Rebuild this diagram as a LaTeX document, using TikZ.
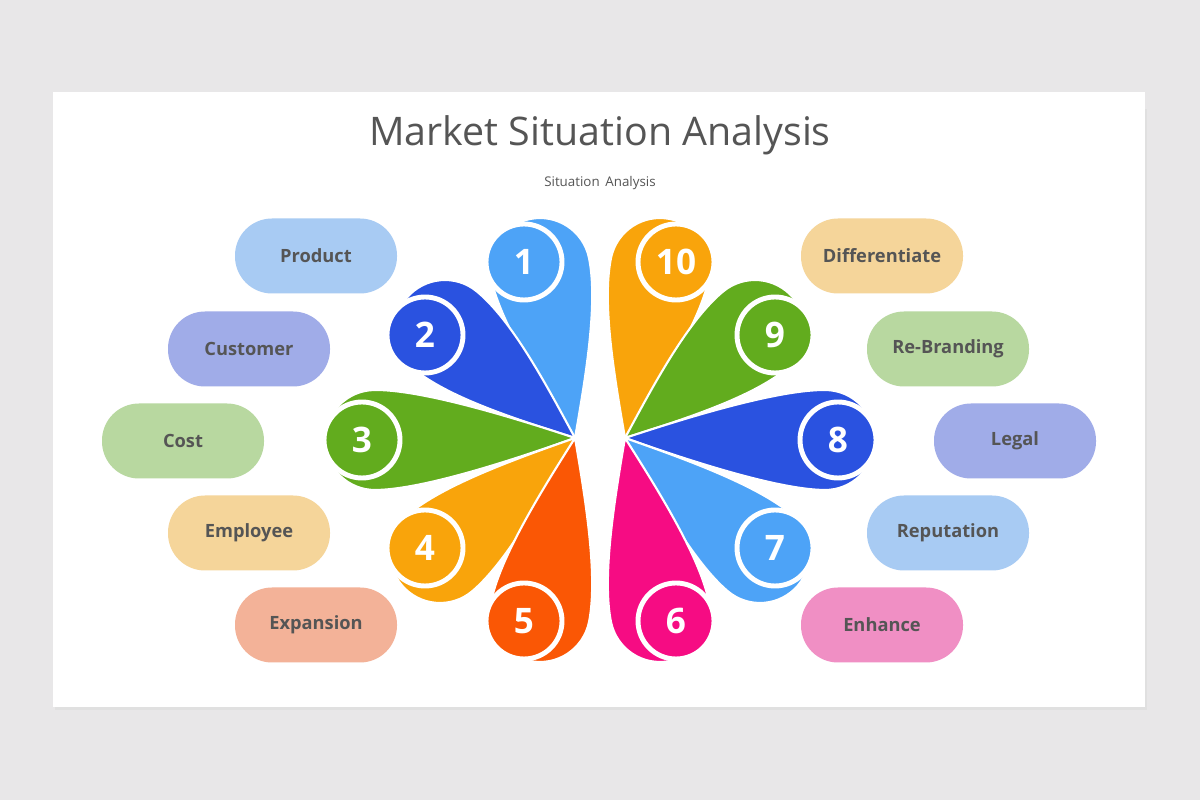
\documentclass[tikz,border=0pt]{standalone}
\usepackage{fontspec}
\setmainfont{Open Sans}
\definecolor{bg}{HTML}{E8E7E8}
\definecolor{txt}{HTML}{555555}
\definecolor{cA}{HTML}{4DA3F7}
\definecolor{cB}{HTML}{2A52E0}
\definecolor{cC}{HTML}{62AC1E}
\definecolor{cD}{HTML}{F9A40B}
\definecolor{cE}{HTML}{FA5705}
\definecolor{cF}{HTML}{F60C83}
\definecolor{pA}{HTML}{A8CBF3}
\definecolor{pB}{HTML}{A0ACE8}
\definecolor{pC}{HTML}{B8D8A0}
\definecolor{pD}{HTML}{F5D59A}
\definecolor{pE}{HTML}{F3B298}
\definecolor{pF}{HTML}{F08FC4}
\newcommand{\mypetal}[3]{%
  \pgfmathsetmacro{\pang}{atan2(#3,#2)}%
  \pgfmathsetmacro{\plen}{veclen(#2,#3)}%
  \begin{scope}[shift={(575,362)},rotate=\pang]
    \fill[#1,draw=white,line width=1.5pt] (0,0) .. controls (0.35*\plen,-24) and (\plen-45,-50) .. (\plen,-50)
      arc[start angle=-90,end angle=90,radius=50]
      .. controls (\plen-45,50) and (0.35*\plen,24) .. cycle;
  \end{scope}}
\tikzset{
  pill/.style={rounded corners=37*0.025cm,minimum width=162*0.025cm,minimum height=75*0.025cm,
    font=\fontsize{13}{15}\selectfont\bfseries,text=txt,inner sep=0pt},
  num/.style={circle,draw=white,line width=3.5pt,minimum size=76*0.025cm,inner sep=0pt,
    text=white,font=\fontsize{25}{28}\selectfont\bfseries}
}
\begin{document}
\begin{tikzpicture}[x=0.025cm,y=0.025cm]
\fill[bg] (0,0) rectangle (1200,800);
\fill[black!12] (55,90) rectangle (1147,691);
\fill[white] (53,93) rectangle (1145,708);
\node[text=txt,font=\fontsize{28}{32}\selectfont] (title) at (600,665) {Market Situation Analysis};
\node[text=txt,font=\fontsize{9.5}{11}\selectfont] (sub) at (600,617) {Situation\, Analysis};
\mypetal{cA}{-35}{170}
\mypetal{cB}{-130}{108}
\mypetal{cC}{-200}{-2}
\mypetal{cD}{-135}{-115}
\mypetal{cE}{-35}{-174}
\begin{scope}[shift={(1200,0)},xscale=-1]
\mypetal{cD}{-35}{170}
\mypetal{cC}{-130}{108}
\mypetal{cB}{-200}{-2}
\mypetal{cA}{-135}{-115}
\mypetal{cF}{-35}{-174}
\end{scope}
\node[num,fill=cA] (n1) at (524,538) {1};
\node[num,fill=cB] (n2) at (425,465) {2};
\node[num,fill=cC] (n3) at (362,360) {3};
\node[num,fill=cD] (n4) at (425,252) {4};
\node[num,fill=cE] (n5) at (524,179) {5};
\node[num,fill=cF] (n6) at (676,179) {6};
\node[num,fill=cA] (n7) at (775,252) {7};
\node[num,fill=cB] (n8) at (838,360) {8};
\node[num,fill=cC] (n9) at (775,465) {9};
\node[num,fill=cD] (n10) at (676,538) {10};
\node[pill,fill=pA] (l1) at (316,544) {Product};
\node[pill,fill=pB] (l2) at (249,451) {Customer};
\node[pill,fill=pC] (l3) at (183,359) {Cost};
\node[pill,fill=pD] (l4) at (249,267) {Employee};
\node[pill,fill=pE] (l5) at (316,175) {Expansion};
\node[pill,fill=pD] (r1) at (882,544) {Differentiate};
\node[pill,fill=pC] (r2) at (948,451) {Re-Branding};
\node[pill,fill=pB] (r3) at (1015,359) {Legal};
\node[pill,fill=pA] (r4) at (948,267) {Reputation};
\node[pill,fill=pF] (r5) at (882,175) {Enhance};
\end{tikzpicture}
\end{document}
